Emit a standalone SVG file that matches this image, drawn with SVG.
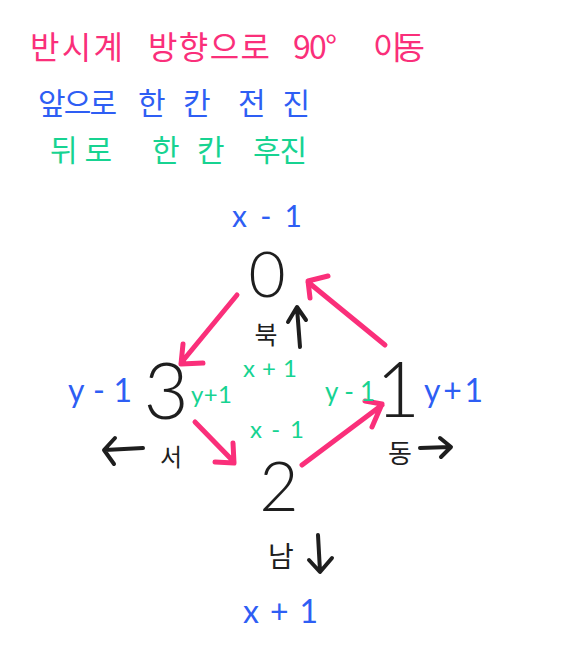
<svg xmlns="http://www.w3.org/2000/svg" width="570" height="647" viewBox="0 0 570 647">
<defs>
<style>
.ko{font-family:"Noto Sans CJK KR","Noto Sans",sans-serif}
.la{font-family:Lato,"Liberation Sans",sans-serif}
.pink{fill:#fa2f7a}
.blue{fill:#2e5ef4}
.green{fill:#17d391}
.black{fill:#1e1e1e}
.dig{font-family:Lato,"Liberation Sans",sans-serif;font-weight:300;fill:#1e1e1e}
.pk{fill:none;stroke:#fa2f7a;stroke-width:5;stroke-linecap:round;stroke-linejoin:round}
.bk{fill:none;stroke:#1e1e1e;stroke-width:4;stroke-linecap:round;stroke-linejoin:round}
</style>
</defs>
<rect width="570" height="647" fill="#ffffff"/>
<g id="legend">
<g class="ko pink" font-size="32">
<text x="30" y="59" textLength="93">반시계</text>
<text x="148" y="59" textLength="122">방향으로</text>
<text x="293" y="59" textLength="44">90°</text>
<text x="373" y="59" textLength="52">이동</text>
</g>
<g class="ko blue" font-size="30">
<text x="38" y="114" textLength="79">앞으로</text>
<text x="138" y="114" textLength="34">한</text>
<text x="183" y="114" textLength="30">칸</text>
<text x="238" y="114" textLength="72">전진</text>
</g>
<g class="ko green" font-size="30">
<text x="50" y="161" textLength="62">뒤로</text>
<text x="152" y="161" textLength="33">한</text>
<text x="197" y="161" textLength="31">칸</text>
<text x="253" y="161" textLength="54">후진</text>
</g>
</g>
<g id="node-0">
<text class="la blue" x="232" y="227" font-size="30" textLength="70">x - 1</text>
<text class="dig" x="267" y="297" font-size="64" text-anchor="middle">0</text>
<text class="ko black" x="266" y="344" font-size="25" text-anchor="middle">북</text>
<path class="bk" d="M300 347 L297 308 M288 322 L297 307 L306 320"/>
</g>
<g id="node-3">
<text class="la blue" x="68" y="402" font-size="32" textLength="64">y-1</text>
<text class="dig" x="166" y="419" font-size="78" text-anchor="middle">3</text>
<text class="la green" x="191" y="403" font-size="24" textLength="41">y+1</text>
<text class="ko black" x="171" y="466" font-size="24" text-anchor="middle">서</text>
<path class="bk" d="M143 448 L105 450 M115 438 L104 450 L114 464"/>
</g>
<g id="node-1">
<text class="dig" x="398" y="417" font-size="76" text-anchor="middle">1</text>
<text class="la blue" x="424" y="402" font-size="32" textLength="59">y+1</text>
<text class="ko black" x="400" y="463" font-size="26" text-anchor="middle">동</text>
<path class="bk" d="M420 448 L450 447 M440 438 L451 447 L441 457"/>
</g>
<g id="node-2">
<text class="dig" x="279" y="511" font-size="68" text-anchor="middle">2</text>
<text class="ko black" x="281" y="567" font-size="28" text-anchor="middle">남</text>
<path class="bk" d="M318 535 L320 571 M309 560 L320 572 L332 558"/>
<text class="la blue" x="243" y="623" font-size="32" textLength="75">x + 1</text>
</g>
<g id="connectors">
<path class="pk" d="M237 295 L181 363 M183 344 L181 364 L203 363"/>
<path class="pk" d="M195 422 L234 462 M233 443 L234 463 L215 462"/>
<path class="pk" d="M302 465 L382 405 M365 401 L382 404 L372 427"/>
<path class="pk" d="M385 345 L308 282 M328 276 L308 281 L310 298"/>
<text class="la green" x="243" y="377" font-size="24" textLength="54">x+1</text>
<text class="la green" x="250" y="438" font-size="24" textLength="54">x-1</text>
<text class="la green" x="325" y="401" font-size="26" textLength="50">y-1</text>
</g>
</svg>
